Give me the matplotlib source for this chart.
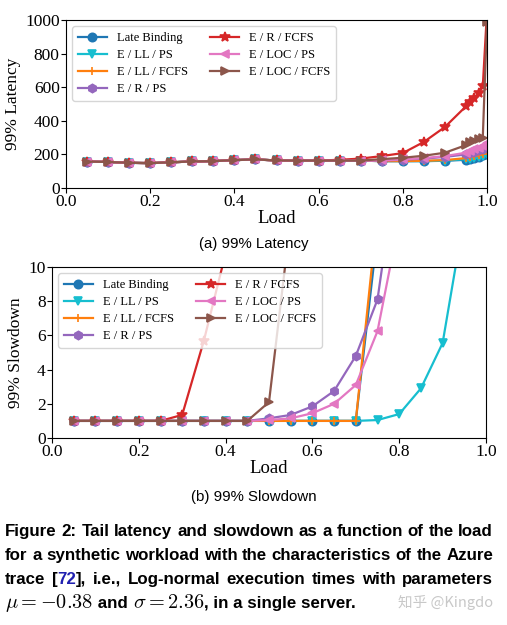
import numpy as np
import matplotlib
matplotlib.use('Agg')
import matplotlib.pyplot as plt

plt.rcParams['font.family'] = ['Liberation Serif', 'DejaVu Serif']
plt.rcParams['mathtext.fontset'] = 'cm'

# load values (x axis)
loads = [0.05, 0.10, 0.15, 0.20, 0.25, 0.30, 0.35, 0.40, 0.45, 0.50,
         0.55, 0.60, 0.65, 0.70, 0.75, 0.80, 0.85, 0.90, 0.95,
         0.96, 0.97, 0.98, 0.99, 1.00]

labels = ['Late Binding', 'E / LL / PS', 'E / LL / FCFS', 'E / R / PS',
          'E / R / FCFS', 'E / LOC / PS', 'E / LOC / FCFS']
colors = ['tab:blue', 'tab:cyan', 'tab:orange', 'tab:purple',
          'tab:red', 'tab:pink', 'tab:brown']
markers = ['o', 'v', '+', 'h', '*', '<', '>']

# 99% latency, loads 0.05 .. 1.0
base = [157, 155, 150, 148, 153, 158, 160, 166, 170, 164, 163, 163, 163, 163]
lat_late = base + [160, 160, 160, 162, 168, 172, 178, 185, 195, 205]
lat_ll_ps = base + [160, 160, 160, 163, 172, 175, 178, 182, 188, 205]
lat_ll_fcfs = base + [160, 160, 162, 166, 178, 183, 188, 195, 205, 225]
lat_r_ps = base + [163, 168, 175, 185, 200, 208, 215, 225, 235, 250]
lat_r_fcfs = base[:12] + [168, 175, 190, 208, 274, 363, 486, 510, 535, 565, 605, 1050]
lat_loc_ps = base + [165, 170, 178, 190, 210, 220, 230, 240, 250, 265]
lat_loc_fcfs = base + [172, 180, 192, 210, 255, 272, 282, 290, 300, 990]

# 99% slowdown, loads 0.05 .. (as far as the curve stays near the plot)
sd_late = [1.0] * 14 + [12.0]
sd_ll_ps = [1.0] * 14 + [1.05, 1.4, 2.9, 5.55, 13.0]
sd_ll_fcfs = [1.0] * 14 + [13.2]
sd_r_ps = [1.0] * 9 + [1.15, 1.35, 1.85, 2.75, 4.8, 8.1, 17.0]
sd_r_fcfs = [1.0] * 5 + [1.35, 5.7, 10.8]
sd_loc_ps = [1.0] * 9 + [1.05, 1.15, 1.45, 2.0, 3.1, 6.25, 12.7]
sd_loc_fcfs = [1.0] * 9 + [2.1, 12.8]

latency = [lat_late, lat_ll_ps, lat_ll_fcfs, lat_r_ps, lat_r_fcfs, lat_loc_ps, lat_loc_fcfs]
slowdown = [sd_late, sd_ll_ps, sd_ll_fcfs, sd_r_ps, sd_r_fcfs, sd_loc_ps, sd_loc_fcfs]

W, H = 507, 625
fig = plt.figure(figsize=(W / 100, H / 100), dpi=100)

ax1 = fig.add_axes([66 / W, 1 - 188 / H, 421 / W, 168 / H])
ax2 = fig.add_axes([52 / W, 1 - 438 / H, 434 / W, 171 / H])


def draw(ax, series, ylim, yticks, ylabel):
    for vals, lab, c, m in zip(series, labels, colors, markers):
        ax.plot(loads[:len(vals)], vals, color=c, marker=m, label=lab,
                lw=1.6, ms=6 if m != '*' else 7.5, mew=1.2)
    ax.set_xlim(0, 1)
    ax.set_ylim(*ylim)
    ax.set_xticks(np.arange(0, 1.01, 0.2))
    ax.set_yticks(yticks)
    ax.tick_params(labelsize=12.5, length=3.5, pad=1)
    ax.set_xlabel('Load', fontsize=13.5, labelpad=0)
    ax.set_ylabel(ylabel, fontsize=12.5, labelpad=3)
    ax.legend(ncol=2, loc='upper left', fontsize=9, handlelength=2.3,
              columnspacing=1.8, labelspacing=0.4, borderpad=0.45,
              handletextpad=0.8)


draw(ax1, latency, (0, 1000), range(0, 1001, 200), '99% Latency')
draw(ax2, slowdown, (0, 10), range(0, 11, 2), '99% Slowdown')

sans = ['Liberation Sans', 'DejaVu Sans']
fig.text(0.5, 1 - 244 / H, '(a) 99% Latency', ha='center', va='center',
         family=sans, fontsize=10.8)
fig.text(0.5, 1 - 497 / H, '(b) 99% Slowdown', ha='center', va='center',
         family=sans, fontsize=10.8)

# caption, justified by hand (word by word on a common baseline)
blue = '#2020b0'
lines = [
    'Figure 2: Tail latency and slowdown as a function of the load',
    'for a synthetic workload with the characteristics of the Azure',
    'trace [72], i.e., Log-normal execution times with parameters',
]
baselines = [536, 560, 584]
left, right = 5, 493
renderer = fig.canvas.get_renderer()
fs = 12.2

for text, yy in zip(lines, baselines):
    words = text.split(' ')
    objs = []
    widths = []
    for w in words:
        if w == '[72],':
            segs = [('[', 'black'), ('72', blue), ('],', 'black')]
        else:
            segs = [(w, 'black')]
        parts = []
        for s, c in segs:
            t = fig.text(0, 1 - yy / H, s, color=c, family=sans,
                         fontweight='bold', fontsize=fs, va='baseline')
            parts.append(t)
        ws = [p.get_window_extent(renderer).width for p in parts]
        objs.append((parts, ws))
        widths.append(sum(ws))
    gap = (right - left - sum(widths)) / (len(words) - 1)
    x = left
    for (parts, ws), tw in zip(objs, widths):
        xx = x
        for p, w in zip(parts, ws):
            p.set_x(xx / W)
            xx += w
        x += tw + gap

# last line: larger serif math pieces mixed with bold sans text
last = [(r'$\mu = -0.38$', True), (' and ', False), (r'$\sigma = 2.36$', True),
        (', in a single server.', False)]
x = left
for s, is_math in last:
    t = fig.text(x / W, 1 - 608 / H, s, family=sans, va='baseline',
                 fontweight='normal' if is_math else 'bold',
                 fontsize=fs * 1.2 if is_math else fs)
    x += t.get_window_extent(renderer).width

fig.text(493 / W, 1 - 602 / H, '知乎 @Kingdo', ha='right', va='center',
         family=['Noto Sans CJK SC', 'DejaVu Sans'], fontsize=10.5,
         color='#c8c8c8')

fig.savefig('out.png', dpi=100)
